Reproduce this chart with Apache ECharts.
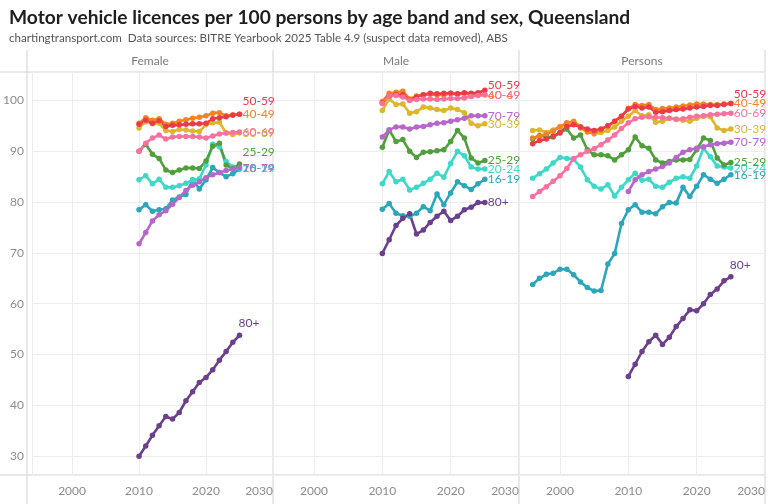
<!DOCTYPE html>
<html>
<head>
<meta charset="utf-8">
<script src="https://cdn.jsdelivr.net/npm/echarts@6/dist/echarts.min.js"></script>
<style>
  html, body { margin: 0; padding: 0; background: #fff; }
  #chart { width: 768px; height: 504px; }
</style>
</head>
<body>
<div id="chart"></div>
<script>
// age bands and panels
const bands = ['16-19', '20-24', '25-29', '30-39', '40-49', '50-59', '60-69', '70-79', '80+'];
const panels = ['Female', 'Male', 'Persons'];

const years2010 = [2010, 2011, 2012, 2013, 2014, 2015, 2016, 2017, 2018, 2019, 2020, 2021, 2022, 2023, 2024, 2025];
const years1996 = [1996, 1997, 1998, 1999, 2000, 2001, 2002, 2003, 2004, 2005, 2006, 2007, 2008, 2009,
  2010, 2011, 2012, 2013, 2014, 2015, 2016, 2017, 2018, 2019, 2020, 2021, 2022, 2023, 2024, 2025];

// Female, 2010-2025
const female16 = [78.5, 79.5, 78.2, 78.5, 78.7, 80.4, 81.0, 81.5, 84.4, 82.6, 84.4, 86.8, 85.8, 85.0, 85.6, 86.5];
const female20 = [84.4, 85.2, 83.6, 84.5, 82.9, 82.9, 83.2, 83.7, 84.3, 84.6, 87.3, 91.4, 90.9, 88.0, 86.9, 86.7];
const female25 = [90.0, 91.4, 89.4, 88.6, 86.3, 85.8, 86.3, 86.7, 86.7, 86.6, 88.1, 91.0, 91.6, 87.3, 86.6, 87.5];
const female30 = [94.6, 95.8, 95.4, 95.5, 94.1, 93.9, 94.3, 94.2, 94.0, 93.9, 95.2, 95.6, 95.7, 93.6, 93.3, 93.6];
const female40 = [95.5, 96.6, 96.1, 96.4, 95.3, 95.5, 95.9, 96.2, 96.5, 96.7, 97.0, 97.5, 97.6, 97.0, 97.2, 97.3];
const female50 = [95.3, 96.1, 95.5, 96.0, 94.9, 95.1, 95.2, 95.3, 95.4, 95.4, 95.5, 96.4, 96.6, 96.8, 97.1, 97.3];
const female60 = [90.0, 91.6, 92.6, 93.2, 92.4, 92.8, 92.9, 92.9, 92.9, 92.8, 92.6, 93.0, 93.4, 93.6, 93.7, 93.8];
const female70 = [71.8, 74.0, 76.3, 77.5, 78.3, 79.6, 80.9, 82.3, 83.3, 84.0, 84.8, 85.4, 85.8, 86.2, 86.5, 86.8];
const female80 = [30.0, 32.0, 34.1, 36.0, 37.8, 37.3, 38.6, 40.9, 42.7, 44.5, 45.5, 47.0, 48.9, 50.6, 52.4, 53.8];

// Male, 2010-2025
const male16 = [78.6, 79.7, 77.8, 77.3, 77.2, 77.8, 79.1, 78.3, 81.6, 79.5, 81.8, 84.0, 83.2, 82.5, 83.6, 84.5];
const male20 = [83.6, 86.0, 84.0, 84.5, 82.4, 82.9, 83.7, 84.5, 85.7, 84.9, 87.6, 90.0, 89.1, 86.9, 86.5, 86.5];
const male25 = [90.8, 94.2, 91.9, 92.3, 90.0, 88.8, 89.8, 89.9, 90.1, 90.3, 91.9, 94.1, 92.6, 88.7, 87.7, 88.2];
const male30 = [98.0, 100.3, 99.2, 99.3, 97.5, 97.8, 98.7, 98.5, 98.2, 98.0, 98.5, 98.2, 97.6, 95.5, 95.0, 95.4];
const male40 = [99.8, 101.4, 101.6, 101.8, 100.3, 100.9, 101.1, 101.2, 101.1, 101.1, 101.4, 101.2, 101.4, 101.1, 101.1, 101.1];
const male50 = [99.5, 100.9, 101.1, 101.1, 100.1, 100.7, 101.1, 101.4, 101.3, 101.4, 101.4, 101.3, 101.5, 101.4, 101.5, 102.0];
const male60 = [99.4, 100.9, 101.0, 100.7, 100.0, 100.2, 100.3, 100.3, 100.2, 100.3, 100.4, 100.4, 100.5, 100.8, 101.0, 101.1];
const male70 = [92.8, 94.2, 94.8, 94.8, 94.4, 94.8, 94.9, 95.2, 95.5, 95.6, 95.9, 96.2, 96.5, 97.0, 97.0, 97.0];
const male80 = [69.9, 72.6, 75.4, 76.8, 77.7, 73.7, 74.5, 76.0, 77.2, 78.2, 76.4, 77.2, 78.5, 79.0, 79.9, 79.9];

// Persons, 1996-2025 (70-79 and 80+ only from 2010)
const persons16 = [63.8, 65.0, 65.8, 66.0, 66.8, 66.8, 65.7, 64.3, 63.2, 62.5, 62.6, 67.8, 69.9, 75.8,
  78.5, 79.5, 78.0, 78.0, 77.7, 79.1, 79.9, 79.8, 82.9, 81.1, 83.1, 85.4, 84.5, 83.7, 84.5, 85.4];
const persons20 = [84.7, 85.6, 86.5, 87.7, 88.8, 88.6, 88.4, 86.9, 84.4, 83.1, 82.6, 83.4, 81.2, 82.9,
  84.4, 85.7, 84.3, 84.5, 83.1, 82.9, 83.9, 84.7, 85.0, 84.7, 87.1, 90.6, 88.9, 87.1, 86.9, 86.7];
const persons25 = [92.4, 93.1, 92.8, 92.8, 93.6, 94.4, 92.6, 93.2, 90.3, 89.3, 89.3, 89.1, 88.3, 89.3,
  90.3, 92.8, 91.1, 90.6, 88.3, 87.7, 88.0, 88.3, 88.3, 88.4, 90.3, 92.6, 92.1, 88.7, 87.3, 87.8];
const persons30 = [94.1, 94.2, 93.7, 94.2, 94.9, 95.5, 95.9, 94.9, 93.9, 93.4, 93.7, 94.1, 94.8, 95.9,
  96.9, 98.0, 97.0, 97.2, 95.7, 95.9, 96.5, 96.3, 96.1, 95.9, 96.5, 96.9, 96.8, 94.6, 94.1, 94.4];
const persons40 = [92.6, 93.0, 93.4, 94.0, 94.8, 95.6, 95.8, 94.6, 93.8, 93.6, 94.2, 95.0, 95.9, 96.9,
  98.4, 99.2, 99.0, 99.2, 98.2, 98.4, 98.5, 98.7, 98.9, 99.1, 99.3, 99.3, 99.2, 99.2, 99.3, 99.4];
const persons50 = [91.5, 92.1, 92.4, 93.0, 93.7, 94.9, 95.2, 94.8, 94.4, 94.1, 94.4, 95.0, 95.9, 96.9,
  98.3, 98.8, 98.5, 98.7, 97.7, 97.8, 98.0, 98.2, 98.3, 98.5, 98.7, 98.8, 99.0, 99.0, 99.2, 99.4];
const persons60 = [81.1, 82.1, 83.0, 84.1, 85.2, 86.6, 88.6, 89.3, 90.0, 90.5, 91.3, 92.2, 93.2, 94.5,
  95.6, 96.4, 96.7, 96.8, 96.7, 96.6, 96.5, 96.3, 96.4, 96.7, 96.9, 97.0, 97.2, 97.3, 97.4, 97.5];
const persons70 = [82.1, 84.4, 85.4, 86.0, 86.5, 87.0, 87.7, 88.8, 89.8, 90.3, 90.6, 90.9, 91.3, 91.5, 91.6, 91.8];
const persons80 = [45.7, 48.1, 50.6, 52.5, 53.8, 52.0, 53.4, 55.5, 57.1, 58.8, 58.6, 60.0, 61.8, 62.9, 64.5, 65.3];

// which x values go with each series
const panelSeries = [
  [[years2010, female16], [years2010, female20], [years2010, female25], [years2010, female30], [years2010, female40],
   [years2010, female50], [years2010, female60], [years2010, female70], [years2010, female80]],
  [[years2010, male16], [years2010, male20], [years2010, male25], [years2010, male30], [years2010, male40],
   [years2010, male50], [years2010, male60], [years2010, male70], [years2010, male80]],
  [[years1996, persons16], [years1996, persons20], [years1996, persons25], [years1996, persons30], [years1996, persons40],
   [years1996, persons50], [years1996, persons60], [years2010, persons70], [years2010, persons80]]
];

// styling
const colors = {
  '16-19': '#2BA6BA', '20-24': '#3DD8C8', '25-29': '#4F9F3B', '30-39': '#DDB629', '40-49': '#F6831F',
  '50-59': '#EC3A48', '60-69': '#FA719E', '70-79': '#B866CB', '80+': '#6B3F8B'
};
// label nudges (px) where Tableau moved labels to avoid clashes
const labelNudge = {
  'Female|50-59': [0, -13], 'Female|25-29': [0, -12], 'Female|80+': [-4, -12],
  'Female|16-19': [0, -1], 'Female|70-79': [0, 0.5],
  'Male|50-59': [0, -5],
  'Persons|50-59': [0, -9], 'Persons|80+': [-4, -12]
};

const font = 'Lato, "Open Sans", sans-serif';
const gridTop = 72, gridBottom = 475, plotLeft = 27, panelW = 246;
const lineGrey = '#D2D2D2', gridGrey = '#EDEDED', textGrey = '#8C8C8C';

let myChart = echarts.init(document.getElementById('chart'), null, { renderer: 'canvas' });

const grids = [], xAxes = [], yAxes = [], series = [];
panels.forEach((panel, i) => {
  grids.push({ left: plotLeft + i * panelW, top: gridTop, width: panelW, height: gridBottom - gridTop });
  xAxes.push({
    type: 'value', gridIndex: i, min: 1994, max: 2030,
    axisLine: { show: false }, axisTick: { show: false },
    splitLine: { show: true, lineStyle: { color: gridGrey, width: 1 } },
    axisLabel: {
      color: textGrey, fontFamily: font, fontSize: 12, margin: 10,
      showMinLabel: false, showMaxLabel: true, alignMaxLabel: 'right',
      formatter: v => String(Math.round(v))
    }
  });
  yAxes.push({
    type: 'value', gridIndex: i, min: 26.3, max: 105.6, splitNumber: 8,
    axisLine: { show: false }, axisTick: { show: false },
    splitLine: { show: true, lineStyle: { color: gridGrey, width: 1 } },
    axisLabel: {
      show: i === 0, color: textGrey, fontFamily: font, fontSize: 12, margin: 8,
      showMinLabel: false, showMaxLabel: false,
      formatter: v => String(Math.round(v))
    }
  });
  bands.forEach((band, b) => {
    const [xs, vals] = panelSeries[i][b];
    series.push({
      name: band,
      type: 'line',
      xAxisIndex: i,
      yAxisIndex: i,
      data: xs.map((x, k) => [x, vals[k]]),
      symbol: 'circle',
      symbolSize: 5.5,
      showSymbol: true,
      color: colors[band],
      lineStyle: { width: 2.6, color: colors[band] },
      itemStyle: { color: colors[band] },
      emphasis: { disabled: true },
      endLabel: {
        show: true,
        formatter: band,
        color: colors[band],
        fontFamily: font,
        fontSize: 12,
        distance: 3,
        offset: labelNudge[panel + '|' + band] || [0, 0]
      }
    });
  });
});

const graphics = [];
// panel separators, full height
[0, 1, 2, 3].forEach(k => {
  const x = plotLeft + k * panelW;
  graphics.push({ type: 'line', silent: true, shape: { x1: x, y1: 50, x2: x, y2: 504 },
    style: { stroke: lineGrey, lineWidth: 1 } });
});
// header underline and axis line
[gridTop, gridBottom].forEach(y => {
  graphics.push({ type: 'line', silent: true, shape: { x1: 0, y1: y, x2: plotLeft + 3 * panelW, y2: y },
    style: { stroke: lineGrey, lineWidth: 1 } });
});
// panel headers
panels.forEach((panel, i) => {
  graphics.push({ type: 'text', silent: true, x: plotLeft + i * panelW + panelW / 2, y: 61,
    style: { text: panel, fill: '#7A7A7A', font: '12px ' + font, textAlign: 'center', textVerticalAlign: 'middle' } });
});

let option = {
  animation: false,
  backgroundColor: '#ffffff',
  title: {
    text: 'Motor vehicle licences per 100 persons by age band and sex, Queensland',
    subtext: 'chartingtransport.com  Data sources: BITRE Yearbook 2025 Table 4.9 (suspect data removed), ABS',
    left: 4, top: 3, itemGap: 5,
    textStyle: { fontFamily: font, fontWeight: 'bold', fontSize: 19.2, color: '#1E1E1E' },
    subtextStyle: { fontFamily: font, fontSize: 11.6, color: '#555555' }
  },
  grid: grids,
  xAxis: xAxes,
  yAxis: yAxes,
  series: series,
  graphic: graphics
};

myChart.setOption(option);
</script>
</body>
</html>
